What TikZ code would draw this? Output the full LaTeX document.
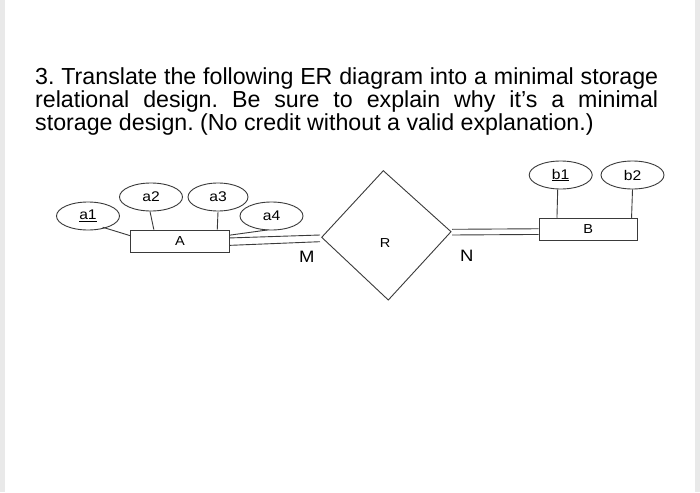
\documentclass[tikz,border=0pt]{standalone}
\usepackage{fontspec}
\usepackage{graphicx}
\setmainfont{Liberation Sans}
\usetikzlibrary{shapes.geometric,calc}
\definecolor{edge}{HTML}{3A3A3A}
\definecolor{frame}{HTML}{E9E9E9}
\newcommand\stretchtxt[1]{\scalebox{1.12}[1]{#1}}
\tikzset{
  attr/.style={ellipse,draw=edge,line width=0.9pt,minimum width=63pt,minimum height=28pt,inner sep=0pt,font=\fontsize{14}{15}\selectfont},
  ent/.style={rectangle,draw=edge,line width=0.9pt,minimum width=98.6pt,minimum height=22.6pt,inner sep=0pt,font=\fontsize{13}{15}\selectfont},
  conn/.style={draw=edge,line width=0.9pt},
  card/.style={inner sep=0pt,font=\fontsize{16.5}{18}\selectfont}
}
\begin{document}
\begin{tikzpicture}[x=1pt,y=-1pt]
\useasboundingbox (0,0) rectangle (700,492);
\fill[frame] (0,0) rectangle (700,492);
\fill[white] (5,0) rectangle (695,492);
% title
\node[anchor=north west,text width=623pt,align=justify,inner sep=0pt,
      font=\fontsize{23.2}{23}\selectfont] (title) at (35,67.6)
 {\frenchspacing 3. Translate the following ER diagram into a minimal storage\linebreak relational design. Be sure to explain why it's a minimal\linebreak storage design. (No credit without a valid explanation.)};
% entities
\node[ent] (A) at (180,241.4) {\stretchtxt{A}};
\node[ent] (B) at (588.3,229.5) {\stretchtxt{B}};
% attributes
\node[attr] (a1) at (88,216) {\underline{\stretchtxt{a1}}};
\node[attr] (a2) at (151,197) {\stretchtxt{a2}};
\node[attr,minimum width=60pt] (a3) at (218,197) {\stretchtxt{a3}};
\node[attr] (a4) at (271.5,216) {\stretchtxt{a4}};
\node[attr] (b1) at (560.7,175) {\underline{\stretchtxt{b1}}};
\node[attr] (b2) at (632.5,175) {\stretchtxt{b2}};
% relationship
\coordinate (Rt) at (383.3,170.7);
\coordinate (Rr) at (451,231.7);
\coordinate (Rb) at (388.3,300);
\coordinate (Rl) at (321.7,237.3);
\draw[conn,line join=miter] (Rt) -- (Rr) -- (Rb) -- (Rl) -- cycle;
\node[inner sep=0pt,font=\fontsize{13}{15}\selectfont] (R) at (385,242.7) {\stretchtxt{R}};
% attribute links
\draw[conn] (a1.south east) ++(-8,1) coordinate (a1e) -- (A.north west |- 0,235.7) coordinate (Aa1);
\draw[conn] (a2.south) ++(-1,0) -- ($(A.north west)+(23.6,0)$);
\draw[conn] (a3) ++(0,14.8) -- ($(A.north west)+(87,0)$);
\draw[conn] ($(a4.south)+(-4,-0.5)$) -- ($(A.north east)+(0,5.5)$);
\draw[conn] (b1.south) ++(-3,0) -- ($(B.north west)+(18.4,0)$);
\draw[conn] (b2.south) -- ($(B.north west)+(93,0)$);
% double links
\draw[conn] ($(A.north east)+(0,8.3)$) -- ($(Rl)+(-1.7,-2.3)$);
\draw[conn] ($(A.north east)+(0,15.7)$) -- ($(Rl)+(-1.7,4.4)$);
\draw[conn] ($(Rr)+(1,-2.4)$) -- ($(B.north west)+(0,11)$);
\draw[conn] ($(Rr)+(1,3.3)$) -- ($(B.north west)+(0,16.7)$);
% cardinalities
\node[card] (M) at (306.7,257) {\stretchtxt{M}};
\node[card] (N) at (466.7,256) {\stretchtxt{N}};
\end{tikzpicture}
\end{document}
